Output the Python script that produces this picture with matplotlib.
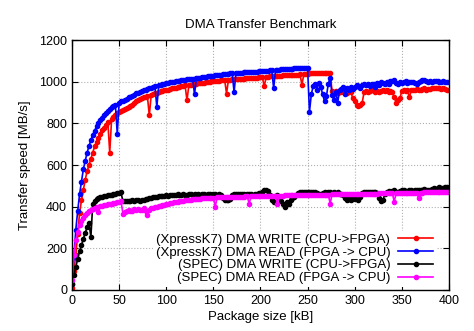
import matplotlib
matplotlib.use('Agg')
from matplotlib import pyplot as plt

plt.rcParams['font.family'] = ['Liberation Sans', 'DejaVu Sans']

# package sizes [kB], one sample every 2 kB
sizes_kb = list(range(0, 401, 2))

# transfer speeds [MB/s], 10 samples (20 kB) per row
xk7_write = [10, 90, 170, 270, 370, 430, 480, 530, 570, 600,
             630, 660, 690, 710, 730, 750, 770, 780, 790, 805,
             660, 820, 830, 840, 850, 855, 860, 865, 870, 875,
             880, 885, 890, 898, 905, 910, 915, 920, 925, 928,
             930, 838, 935, 940, 945, 948, 950, 953, 955, 958,
             960, 962, 965, 968, 970, 972, 975, 976, 978, 980,
             982, 910, 984, 986, 988, 990, 991, 992, 994, 995,
             996, 998, 999, 1000, 1001, 1002, 1003, 1004, 1005, 1006,
             1007, 1008, 943, 1009, 1010, 1011, 1012, 1012, 1013, 1014,
             1015, 1015, 1016, 1017, 1018, 1018, 1019, 1020, 1020, 1021,
             1022, 1022, 977, 1023, 1024, 1025, 1025, 1026, 1027, 1028,
             1028, 1029, 1030, 1030, 1031, 1032, 1032, 1033, 1033, 1034,
             1034, 1035, 985, 1035, 1036, 1038, 1040, 1041, 1042, 1042,
             1042, 1043, 1043, 1043, 1043, 1042, 1043, 1042, 955, 950,
             955, 945, 950, 955, 950, 955, 945, 955, 950, 920,
             905, 890, 885, 890, 900, 950, 955, 950, 955, 960,
             960, 950, 955, 950, 955, 960, 955, 960, 950, 955,
             950, 925, 900, 910, 920, 955, 960, 955, 960, 925,
             958, 962, 960, 965, 962, 960, 965, 968, 960, 965,
             965, 970, 968, 972, 970, 968, 965, 970, 965, 960,
             960]

xk7_read = [30, 160, 290, 380, 460, 520, 580, 620, 660, 690,
            720, 745, 765, 785, 800, 815, 825, 840, 850, 860,
            870, 878, 885, 890, 750, 900, 905, 908, 912, 918,
            925, 928, 932, 938, 945, 948, 952, 955, 958, 962,
            965, 968, 972, 975, 978, 878, 982, 985, 988, 990,
            993, 995, 997, 998, 1000, 1002, 1004, 1005, 1007, 1008,
            1010, 1011, 1013, 1014, 1015, 939, 1017, 1018, 1020, 1021,
            1022, 1023, 1025, 1026, 1028, 1029, 1030, 1031, 1032, 1033,
            1035, 1036, 1037, 1038, 1040, 1041, 950, 1042, 1043, 1043,
            1044, 1045, 1045, 1046, 1046, 1047, 1047, 1048, 1048, 1049,
            1050, 1050, 1051, 1052, 1053, 1054, 1055, 968, 1056, 1057,
            1058, 1059, 1060, 1061, 1062, 1062, 1063, 1063, 1064, 1065,
            1066, 1066, 1067, 1067, 1068, 1068, 855, 940, 980, 990,
            960, 995, 975, 940, 905, 930, 990, 1020, 935, 910,
            950, 900, 960, 965, 975, 940, 970, 960, 975, 965,
            975, 985, 980, 970, 985, 990, 985, 990, 980, 990,
            990, 975, 995, 985, 1000, 995, 990, 1000, 990, 1005,
            1005, 1010, 995, 990, 1000, 995, 1000, 1005, 995, 1000,
            1000, 998, 995, 990, 1000, 1002, 1008, 1010, 1005, 1000,
            1005, 1000, 1003, 1005, 1003, 1000, 998, 1002, 1000, 998,
            998]

spec_write = [30, 70, 110, 150, 185, 215, 245, 275, 300, 320,
              255, 415, 425, 435, 440, 445, 448, 450, 452, 455,
              457, 458, 460, 462, 464, 466, 468, 425, 428, 425,
              428, 425, 430, 428, 432, 430, 428, 432, 430, 435,
              438, 440, 442, 445, 447, 448, 450, 450, 452, 453,
              455, 452, 455, 458, 455, 458, 460, 455, 458, 460,
              455, 458, 460, 462, 458, 460, 455, 460, 458, 462,
              460, 458, 462, 460, 455, 460, 462, 458, 460, 455,
              440, 430, 432, 430, 435, 455, 460, 462, 460, 462,
              460, 462, 458, 460, 462, 460, 458, 462, 460, 465,
              462, 468, 478, 480, 475, 455, 430, 423, 450, 455,
              440, 425, 415, 400, 420, 415, 430, 440, 445, 455,
              465, 470, 472, 470, 468, 470, 472, 470, 468, 470,
              465, 462, 460, 465, 468, 465, 470, 468, 465, 470,
              465, 468, 462, 460, 455, 440, 430, 435, 430, 440,
              435, 440, 430, 445, 465, 470, 468, 472, 470, 468,
              472, 470, 465, 440, 425, 430, 460, 470, 475, 472,
              475, 478, 472, 470, 475, 478, 480, 475, 470, 478,
              480, 475, 478, 482, 480, 478, 482, 485, 480, 478,
              482, 485, 488, 485, 490, 492, 488, 490, 495, 492,
              490]

spec_read = [50, 170, 240, 280, 310, 330, 345, 358, 370, 378,
             385, 390, 395, 398, 372, 402, 405, 408, 410, 412,
             413, 415, 417, 419, 421, 423, 425, 367, 375, 380,
             385, 378, 380, 388, 385, 390, 382, 385, 392, 380,
             360, 385, 392, 395, 398, 400, 402, 405, 408, 410,
             412, 414, 416, 418, 420, 422, 424, 425, 426, 428,
             430, 431, 432, 434, 435, 436, 437, 438, 439, 440,
             440, 441, 442, 442, 443, 443, 400, 444, 444, 445,
             445, 445, 446, 446, 446, 447, 447, 447, 448, 448,
             448, 448, 449, 449, 415, 449, 450, 450, 450, 450,
             450, 451, 451, 451, 452, 452, 452, 452, 453, 415,
             453, 453, 453, 454, 454, 454, 454, 455, 455, 455,
             455, 455, 456, 456, 456, 456, 456, 457, 457, 457,
             457, 457, 458, 458, 458, 458, 458, 415, 459, 459,
             459, 459, 460, 460, 460, 460, 460, 461, 461, 461,
             461, 461, 462, 462, 462, 462, 462, 463, 463, 463,
             463, 463, 463, 464, 464, 464, 464, 464, 465, 465,
             465, 423, 465, 465, 465, 466, 466, 466, 466, 466,
             466, 467, 467, 467, 440, 467, 467, 468, 468, 468,
             468, 468, 469, 469, 469, 469, 470, 470, 470, 470,
             470]

fig = plt.figure(figsize=(4.74, 3.31), dpi=100)
ax = fig.add_axes([0.152, 0.124, 0.795, 0.755])

style = dict(lw=1.2, marker='o', markersize=3.0)
ax.plot(sizes_kb, xk7_write, color='#ff0000', label='(XpressK7) DMA WRITE (CPU->FPGA)', **style)
ax.plot(sizes_kb, xk7_read, color='#0000ff', label='(XpressK7) DMA READ (FPGA -> CPU)', **style)
ax.plot(sizes_kb, spec_write, color='black', label='(SPEC) DMA WRITE (CPU->FPGA)', **style)
ax.plot(sizes_kb, spec_read, color='#ff00ff', label='(SPEC) DMA READ (FPGA -> CPU)', **style)

ax.set_xlim(0, 400)
ax.set_ylim(0, 1200)
ax.set_xticks(range(0, 401, 50))
ax.set_yticks(range(0, 1201, 200))
ax.grid(True, color='#b0b0b0', linestyle=':', linewidth=0.8)
ax.tick_params(direction='in', top=True, right=True, labelsize=9, length=4)
for s in ax.spines.values():
    s.set_linewidth(1.0)

ax.set_title('DMA Transfer Benchmark', fontsize=9.5, pad=9)
ax.set_xlabel('Package size [kB]', fontsize=9.5, labelpad=3)
ax.set_ylabel('Transfer speed [MB/s]', fontsize=9.5, labelpad=6)

leg = ax.legend(loc='lower right', bbox_to_anchor=(0.965, 0.012), markerfirst=False,
                fontsize=9.5, frameon=True, handlelength=2.65, labelspacing=0.05,
                borderaxespad=0.0, handletextpad=0.6, borderpad=0.2, fancybox=False)
leg.get_frame().set_edgecolor('none')
leg.get_frame().set_facecolor('white')
leg.get_frame().set_alpha(1.0)

plt.savefig('out.png', dpi=100)
